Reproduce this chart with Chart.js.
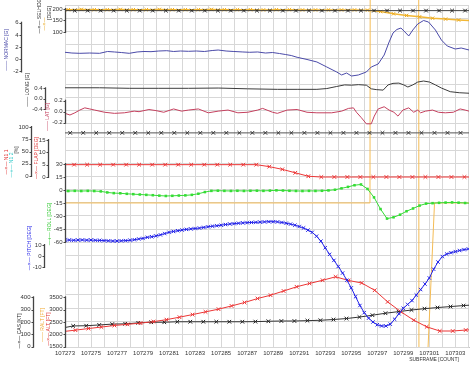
<!DOCTYPE html>
<html>
<head>
<meta charset="utf-8">
<script src="https://cdn.jsdelivr.net/npm/chart.js@4/dist/chart.umd.min.js"></script>
<style>
html,body{margin:0;padding:0;background:#ffffff;overflow:hidden;}
canvas{display:block;}
</style>
</head>
<body>
<canvas id="chart" width="474" height="370"></canvas>
<script>
// ================= DATA =================
const T0 = 107273;                 // first subframe on the x axis
const X_MAX = 107304.05;
const xTickLabels = [107273,107275,107277,107279,107281,107283,107285,107287,107289,107291,107293,107295,107297,107299,107301,107303];

// axis tick labels
const hdgTicks   = [200,150,100];
const normacTicks= [6,4,2,0,-2];
const longTicks  = [0.4,0.0,-0.4];
const latTicks   = [0.2,0.0,-0.2];
const n1Ticks    = [100,75,50,25,0];
const flapTicks  = [15,10,5,0];
const rollTicks  = [30,15,0,-15,-30,-45,-60];
const pitchTicks = [10,0,-10];
const casTicks   = [400,300,200,100,0];
const altTicks   = [3500,3000,2500,2000,1500];

// once-per-subframe series (first sample just left of the axis)
const selHdg = [193,193,193,193,193,193,193,193,193,193,193,
                193,193,193,193,193,193,193,193,193,193,193,
                193,193,193,193,193,193,193,193,193,193,193];
const hdg    = [197,197,198,197,197,198,197,197,198,197,197,
                197,198,197,197,197,196,197,197,196,196,196,
                196,196,195,189,179,172,166,160,156,152,149];
const n1     = [88,88,88,88,88,88,88,88,88,88,88,
                88,88,88,88,88,88,88,88,88,88,88,
                88,88,88,88,88,88,88,88,88,88,88];
const flap   = [5,5,5,5,5,5,5,5,5,5,5,5,5,5,5,5,
                4.2,3.1,1.7,0.3,
                0,0,0,0,0,0,0,0,0,0,0,0,0];
const alt    = [2110,2170,2235,2295,2360,2405,2455,2515,2595,2695,2800,
                2910,3020,3150,3290,3450,3585,3755,3925,4060,4190,4330,
                4180,4080,3785,3315,2920,2575,2305,2135,2135,2175,2200];
const cas    = [148,168,170,176,183,185,193,198,198,202,202,
                202,202,202,202,203,206,208,208,211,214,220,
                228,240,255,271,284,297,308,317,325,333,340];

// twice-per-subframe
const roll = [-1.2,-1.2,-1.0,-1.2,-1.0,-1.2,-1.6,-2.8,-3.6,-3.8,
              -4.4,-4.8,-5.2,-5.6,-6.0,-6.5,-6.9,-6.7,-6.4,-6.2,
              -5.6,-4.3,-2.4,-1.0,-0.8,-1.0,-1.1,-0.9,-1.1,-0.9,
              -0.8,-1.0,-0.7,-0.4,-0.6,-0.9,-1.1,-1.2,-1.0,-1.1,
              -0.9,-0.5,0.3,1.9,3.6,5.5,6.4,1.2,-8.5,-22,
              -33,-31.5,-28.5,-24.5,-21.3,-18,-15.7,-15.2,-14.8,-14.5,
              -14.3,-14.6,-15.0,-15.2];

// three-per-subframe
const pitch = [14.5,
  14.5,14.5,14.3,14.5,14.6,14.4,14.5,14.3,14.2,14.0,
  13.8,13.6,13.6,13.8,14.0,14.3,14.8,15.5,16.0,17.0,
  17.5,18.3,19.2,20.4,21.5,22.3,23.0,23.6,24.2,24.6,
  25.0,25.4,26.0,26.6,27.1,27.5,28.0,28.6,29.1,29.4,
  29.8,30.1,30.3,30.5,30.6,30.8,31.0,31.2,31.2,31.0,
  30.5,29.8,29.0,28.0,26.8,25.5,23.5,21.5,18.0,13.5,
  7.5,1.5,-4.0,-9.5,-15.5,-22.0,-29.0,-37.0,-45.0,-51.5,
  -56.5,-60.0,-62.5,-63.6,-63.6,-62.0,-57.5,-52.5,-47.5,-44.0,
  -40.5,-35.5,-30.5,-25.5,-20.0,-12.0,-5.5,-0.5,1.8,3.0,
  4.0,5.0,5.8,6.4];

// irregular traces: time = subframes after T0
const normacT = [0,0.53,1.14,1.90,2.66,3.27,3.80,4.33,4.94,5.54,
  6.07,6.61,7.21,7.82,8.35,8.88,9.49,10.10,10.71,11.31,
  11.77,12.38,12.98,13.67,14.20,14.81,15.41,15.95,16.48,16.93,
  17.39,17.84,18.60,19.36,20.12,20.88,21.26,21.64,22.02,22.55,
  23.16,23.54,24.07,24.53,24.91,25.21,25.51,25.82,26.20,26.42,
  26.73,27.11,27.56,27.94,28.47,28.93,29.38,29.99,30.45,31.06];
const normac = [1.15,1.03,0.98,1.03,0.98,1.28,1.20,1.11,0.98,1.20,
  1.28,1.25,1.36,1.41,1.28,1.36,1.31,1.36,1.28,1.44,
  1.52,1.36,1.28,1.20,1.15,1.20,1.03,1.11,0.95,0.79,
  0.62,0.33,-0.03,-0.44,-1.26,-2.08,-2.57,-2.25,-2.74,-2.57,
  -2.08,-1.26,-0.77,0.70,2.84,4.31,4.89,5.13,4.31,3.82,
  4.80,5.79,6.36,6.11,4.80,3.16,2.18,1.69,1.85,1.52];

const longT = [0,2.66,4.94,7.21,9.49,11.77,14.04,16.32,17.84,19.36,20.12,
  20.88,21.49,22.02,22.55,23.16,23.54,23.92,24.45,24.83,25.21,25.66,
  26.04,26.35,26.73,27.11,27.56,28.02,28.47,28.93,29.61,30.30,31.06];
const longG = [0.42,0.42,0.40,0.40,0.40,0.41,0.38,0.36,0.36,0.36,0.39,
  0.47,0.53,0.52,0.54,0.52,0.38,0.35,0.33,0.53,0.59,0.60,
  0.53,0.45,0.53,0.64,0.68,0.64,0.53,0.41,0.27,0.23,0.21];

const latT = [0,0.38,0.76,1.14,1.52,1.90,2.28,3.04,3.80,4.56,
  5.32,5.69,6.45,6.99,7.59,8.35,8.96,9.49,10.25,11.01,
  11.77,12.53,13.29,14.05,14.81,15.19,15.95,16.32,17.08,17.84,
  18.60,19.36,20.50,21.26,21.79,22.17,22.40,22.78,23.16,23.54,
  23.77,24.07,24.53,24.91,25.28,25.59,25.97,26.42,26.80,27.11,
  27.33,27.71,28.25,28.70,29.23,29.84,30.37,30.75,31.06];
const latG = [-0.03,-0.06,-0.02,0.03,0.07,0.05,0.03,-0.01,-0.03,-0.02,
  0.01,0.00,0.04,0.02,-0.01,0.05,0.01,0.03,0.05,-0.02,
  0.01,0.03,-0.02,-0.01,0.03,0.06,-0.01,-0.03,0.03,0.04,
  -0.01,-0.02,-0.02,0.01,0.06,0.07,-0.01,-0.11,-0.22,-0.22,
  -0.08,0.05,0.09,0.03,-0.01,-0.08,0.03,0.07,-0.01,0.03,
  -0.02,0.01,0.03,-0.01,-0.02,-0.01,0.05,0.03,0.01];

const raltT = [0,23.44,23.48,27.17,27.21,27.74,27.79,28.40,31.2];
const ralt  = [7320,7320,30000,30000,-6000,-6000,150,7320,7320];

// ================= CHART =================
const GRID = '#d7d7d7';
const CHART_TOP = 5, CHART_BOTTOM = 347;
function fit(v1, p1, v2, p2) {
  const s = (v2 - v1) / (p2 - p1);
  return { min: v1 + (CHART_BOTTOM - p1) * s, max: v1 + (CHART_TOP - p1) * s };
}
const hidden = (r) => Object.assign({ type: 'linear', display: false }, r);
function sampleTimes(first, step, n) { return Array.from({ length: n }, (_, i) => first + i * step); }
const pts = (ts, vs) => ts.map((t, i) => ({ x: t, y: vs[i] }));
const rel = (arr) => arr.map(t => T0 + t);

const selHdgT = sampleTimes(T0 - 0.25, 1, selHdg.length);
const hdgT    = sampleTimes(T0 - 0.75, 1, hdg.length);
const n1T     = sampleTimes(T0 - 0.6, 1, n1.length);
const flapT   = sampleTimes(T0 - 0.3, 1, flap.length);
const altT    = sampleTimes(T0 - 0.2, 1, alt.length);
const casT    = sampleTimes(T0 - 0.37, 1, cas.length);
const rollT   = sampleTimes(T0 - 0.25, 0.5, roll.length);
const pitchT  = sampleTimes(T0 - 1/3, 1/3, pitch.length);

function line(label, axis, data, color, extra) {
  return Object.assign({
    label, yAxisID: axis, data, borderColor: color, backgroundColor: color,
    borderWidth: 1, pointRadius: 0, tension: 0, fill: false
  }, extra || {});
}
const xMark = (color, r) => ({ pointStyle: 'crossRot', pointRadius: r || 2.6, pointBorderColor: color, pointBorderWidth: 1 });

const datasets = [
  line('ROLL', 'yRoll', pts(rollT, roll), '#35dc35', { pointStyle: 'rect', pointRadius: 1.8, pointBorderWidth: 0, pointBackgroundColor: '#35dc35' }),
  line('PITCH', 'yPitch', pts(pitchT, pitch), '#2424e8', xMark('#2424e8', 2.4)),
  line('ALT', 'yAlt', pts(altT, alt), '#ec3535', xMark('#ec3535')),
  line('CAS', 'yCas', pts(casT, cas), '#333333', xMark('#222222')),
  line('FLAP', 'yFlap', pts(flapT, flap), '#ec3535', xMark('#ec3535')),
  line('N1', 'yN1', pts(n1T, n1), '#555555', xMark('#333333')),
  line('SELHDG', 'yHdg', pts(selHdgT, selHdg), '#444444', xMark('#222222')),
  line('HDG', 'yHdg', pts(hdgT, hdg), '#f2b734', Object.assign({ borderWidth: 1.5 }, xMark('#e8a820', 2.4))),
  line('NORMAC', 'yNorm', pts(rel(normacT), normac), '#4a4aa8'),
  line('LONG', 'yLong', pts(rel(longT), longG), '#3c3c3c'),
  line('LAT', 'yLat', pts(rel(latT), latG), '#c4405e'),
  line('RALT', 'yAlt', pts(rel(raltT), ralt), '#f4bc55', { clip: { left: 0, top: 5, right: 0, bottom: 0 } }),
];

const axisSpecs = [
  { scale: 'yHdg',   x: 65, ticks: hdgTicks },
  { scale: 'yNorm',  x: 21, ticks: normacTicks },
  { scale: 'yLong',  x: 45, ticks: longTicks, dec: 1 },
  { scale: 'yLat',   x: 65, ticks: latTicks, dec: 1 },
  { scale: 'yN1',    x: 31, ticks: n1Ticks },
  { scale: 'yFlap',  x: 48, ticks: flapTicks },
  { scale: 'yRoll',  x: 65, ticks: rollTicks },
  { scale: 'yPitch', x: 44, ticks: pitchTicks },
  { scale: 'yCas',   x: 33, ticks: casTicks },
  { scale: 'yAlt',   x: 65, ticks: altTicks },
];

const titles = [
  { x: 40, y: 16,  text: '\u2014\u00d7\u2014 SELHDG', color: '#222' },
  { x: 45, y: 24,  text: '\u2014\u00d7\u2014', color: '#e8a820' },
  { x: 50, y: 13,  text: '[DEG]', color: '#222' },
  { x: 7,  y: 50,  text: '\u2014\u2014 NORMAC [G]', color: '#4a4aa8' },
  { x: 28, y: 90,  text: '\u2014\u2014 LONG [G]', color: '#333' },
  { x: 48, y: 117, text: '\u2014\u2014 LAT [G]', color: '#c4405e' },
  { x: 7,  y: 162, text: '\u2014\u00d7\u2014 N1 1', color: '#e03030' },
  { x: 12, y: 165, text: '\u2014+\u2014 N1 2', color: '#30c8c8' },
  { x: 17, y: 150, text: '[%]', color: '#333' },
  { x: 37, y: 158, text: '\u2014\u00d7\u2014 FLAP [DEG]', color: '#e03030' },
  { x: 50, y: 224, text: '\u2014+\u2014 ROLL [DEG]', color: '#30c830' },
  { x: 30, y: 248, text: '\u2014\u00d7\u2014 PITCH [DEG]', color: '#2424e8' },
  { x: 20, y: 331, text: '\u2014\u00d7\u2014 CAS [KT]', color: '#222' },
  { x: 43, y: 325, text: '\u2014\u2014 RALT [FT]', color: '#f0a830' },
  { x: 49, y: 329, text: '\u2014\u00d7\u2014 ALT [FT]', color: '#e03030' },
];

const overlay = {
  id: 'overlay',
  beforeDatasetsDraw(chart) {
    const { ctx, chartArea: a } = chart;
    const g = chart.scales.yGrid;
    ctx.save();
    ctx.strokeStyle = GRID;
    ctx.lineWidth = 1;
    for (let v = g.min; v <= g.max; v++) {
      const y = Math.round(g.getPixelForValue(v)) + 0.5;
      ctx.beginPath(); ctx.moveTo(a.left, y); ctx.lineTo(a.right, y); ctx.stroke();
    }
    ctx.restore();
  },
  afterDraw(chart) {
    const ctx = chart.ctx;
    ctx.save();
    ctx.font = '6px "Liberation Sans", Arial, sans-serif';
    axisSpecs.forEach(ax => {
      const s = chart.scales[ax.scale];
      const ys = ax.ticks.map(v => s.getPixelForValue(v));
      const top = Math.min(...ys) - 1, bot = Math.max(...ys) + 1;
      ctx.strokeStyle = '#444';
      ctx.lineWidth = 1.3;
      ctx.beginPath(); ctx.moveTo(ax.x + 0.5, top); ctx.lineTo(ax.x + 0.5, bot); ctx.stroke();
      ctx.lineWidth = 1;
      ctx.fillStyle = '#333';
      ctx.textAlign = 'right';
      ctx.textBaseline = 'middle';
      ax.ticks.forEach((v, i) => {
        const y = Math.round(ys[i]) + 0.5;
        ctx.beginPath(); ctx.moveTo(ax.x - 1.5, y); ctx.lineTo(ax.x + 0.5, y); ctx.stroke();
        ctx.fillText(ax.dec ? v.toFixed(ax.dec) : String(v), ax.x - 2.5, ys[i]);
      });
    });
    ctx.font = '5px "Liberation Sans", Arial, sans-serif';
    ctx.textAlign = 'center';
    ctx.textBaseline = 'middle';
    titles.forEach(t => {
      ctx.save();
      ctx.translate(t.x, t.y);
      ctx.rotate(-Math.PI / 2);
      ctx.fillStyle = t.color;
      ctx.fillText(t.text, 0, 0);
      ctx.restore();
    });
    ctx.fillStyle = '#333';
    ctx.fillText('SUBFRAME [COUNT]', 434, 360);
    ctx.restore();
  }
};

new Chart(document.getElementById('chart'), {
  type: 'line',
  data: { datasets },
  options: {
    responsive: false,
    animation: false,
    devicePixelRatio: 1,
    events: [],
    layout: { padding: { left: 65, right: 0, top: CHART_TOP, bottom: 0 } },
    plugins: { legend: { display: false }, tooltip: { enabled: false } },
    scales: {
      x: {
        type: 'linear', min: T0, max: X_MAX,
        afterBuildTicks: (s) => { const t = []; for (let v = T0; v <= s.max; v++) t.push({ value: v }); s.ticks = t; },
        afterFit: (s) => { s.height = 370 - CHART_BOTTOM; },
        ticks: {
          autoSkip: false, maxRotation: 0, minRotation: 0, padding: 3,
          font: { size: 6, family: '"Liberation Sans", Arial, sans-serif' }, color: '#333',
          callback: (v) => xTickLabels.includes(v) ? String(v) : ''
        },
        grid: { color: GRID, drawTicks: false },
        border: { color: '#c4c4c4' }
      },
      yGrid: hidden({ min: 0, max: 26 }),
      yHdg: hidden(fit(200, 9, 100, 32)),
      yNorm: hidden(fit(6, 22.7, -2, 71.5)),
      yLong: hidden(fit(0.4, 88.3, 0, 98.7)),
      yLat: hidden(fit(0.2, 100.7, 0, 111.7)),
      yN1: hidden(fit(100, 127, 0, 176)),
      yFlap: hidden(fit(15, 140, 0, 177)),
      yRoll: hidden(fit(0, 190, -60, 242)),
      yPitch: hidden(fit(10, 245, -10, 267)),
      yCas: hidden(fit(400, 297.3, 0, 346.7)),
      yAlt: hidden(fit(3500, 297.3, 1500, 346.7))
    }
  },
  plugins: [overlay]
});
</script>
</body>
</html>
